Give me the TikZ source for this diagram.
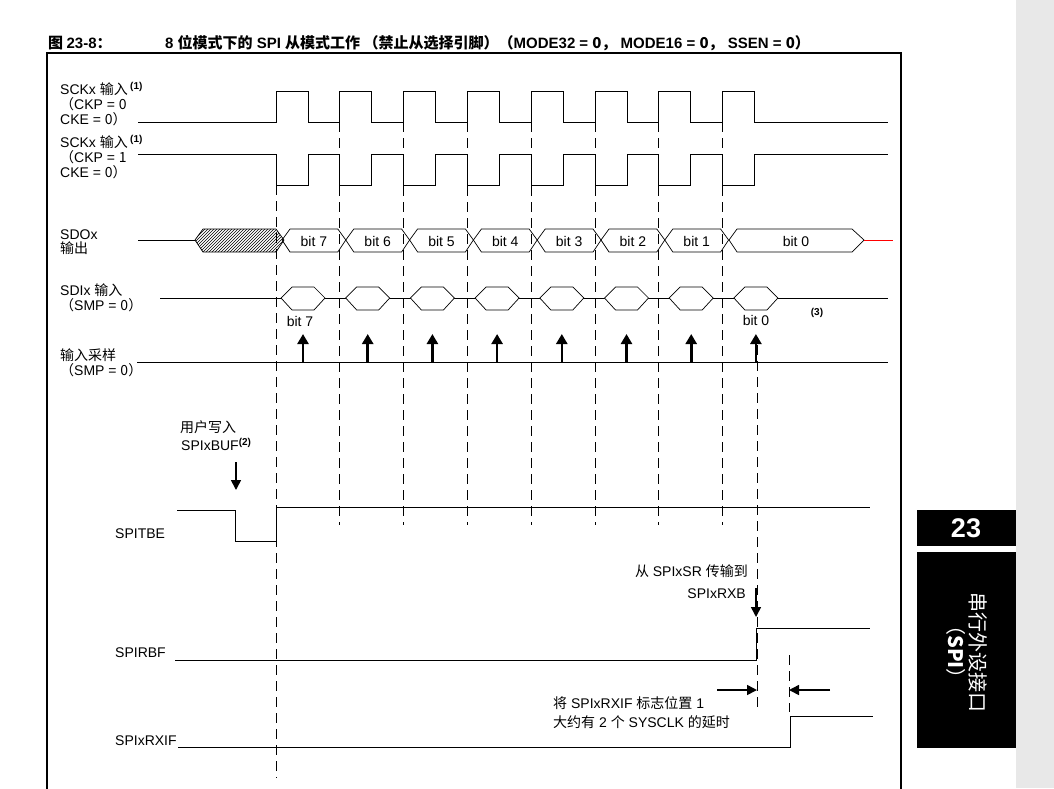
\documentclass[tikz,border=0pt]{standalone}
\usepackage{fontspec}
\setmainfont{Liberation Sans}
\newfontfamily\cjk{Noto Sans CJK SC}
\usetikzlibrary{positioning,patterns,arrows.meta}

\tikzset{
  sig/.style={line width=1pt},
  vdash/.style={line width=0.9pt, dash pattern=on 10pt off 6pt},
  lbl/.style={anchor=base west, inner sep=0pt, font=\fontsize{14}{16}\selectfont},
  bitlbl/.style={inner sep=0pt, font=\fontsize{14}{16}\selectfont},
  samparrow/.style={-{Triangle[length=10pt,width=11pt]}, line width=2.6pt},
  markarrow/.style={-{Triangle[length=10pt,width=10pt]}, line width=1.6pt},
}

\begin{document}
\begin{tikzpicture}[x=1pt,y=-1pt]
\useasboundingbox (0,0) rectangle (1054,788);
\fill[black!9] (1016,0) rectangle (1054,788);
% title and frame
\node[lbl, font=\bfseries\fontsize{15}{17}\selectfont] (title) at (48,48) {\cjk 图 \rmfamily 23-8\cjk：};
\node[lbl, font=\bfseries\fontsize{15}{17}\selectfont] (head) at (165,48)
  {8 {\cjk 位模式下的} SPI {\cjk 从模式工作 （禁止从选择引脚）（}MODE32 = {\cjk 0，} MODE16 = {\cjk 0，} SSEN = {\cjk 0）}};
\draw[line width=1.2pt] (47,795) -- (47,53) -- (901,53) -- (901,795);
% side tab
\fill (917,510) rectangle (1016,546);
\fill (917,552) rectangle (1016,748);
\node[text=white, font=\bfseries\fontsize{27}{29}\selectfont] (chap) at (966,528) {23};
\node[text=white, rotate=-90, align=center, font=\cjk\fontsize{20}{22}\selectfont] (side) at (967,652) {串行外设接口\\（\textbf{SPI}）};
% signal names
\node[lbl] (sck0a) at (60,94) {SCKx {\cjk 输入}\,\raisebox{5pt}{\bfseries\fontsize{10}{12}\selectfont(1)}};
\node[lbl] (sck0b) at (60,109) {\cjk （\rmfamily CKP = \cjk 0};
\node[lbl] (sck0c) at (60,124) {CKE = {\cjk 0）}};
\node[lbl] (sck1a) at (60,147) {SCKx {\cjk 输入}\,\raisebox{5pt}{\bfseries\fontsize{10}{12}\selectfont(1)}};
\node[lbl] (sck1b) at (60,162) {\cjk （\rmfamily CKP = \cjk 1};
\node[lbl] (sck1c) at (60,177) {CKE = {\cjk 0）}};
\node[lbl] (sdoa) at (60,239) {SDOx};
\node[lbl] (sdob) at (60,253) {\cjk 输出};
\node[lbl] (sdia) at (60,295) {SDIx {\cjk 输入}};
\node[lbl] (sdib) at (60,310) {\cjk （\rmfamily SMP = \cjk 0）};
\node[lbl] (smpa) at (60,360) {\cjk 输入采样};
\node[lbl] (smpb) at (60,375) {\cjk （\rmfamily SMP = \cjk 0）};
\node[lbl] (tbe) at (115,538) {SPITBE};
\node[lbl] (rbf) at (115,657) {SPIRBF};
\node[lbl] (rxif) at (115,745) {SPIxRXIF};
% clocks
\draw[sig] (138,122) foreach \k in {0,...,7} {
  -- ({276+63.8*\k},122) -- ({276+63.8*\k},91) -- ({308+63.8*\k},91) -- ({308+63.8*\k},122)} -- (888,122);
\draw[sig] (138,154) foreach \k in {0,...,7} {
  -- ({276+63.8*\k},154) -- ({276+63.8*\k},185) -- ({308+63.8*\k},185) -- ({308+63.8*\k},154)} -- (888,154);
% dashed edge markers
\foreach \k in {1,...,6}
  \draw[vdash] ({276+63.8*\k},122) -- ({276+63.8*\k},525);
\draw[vdash] (276,185) -- (276,778);
\draw[vdash] (722.6,122) -- (722.6,525);
\draw[vdash] (757,345) -- (757,712);
\draw[vdash] (789,655) -- (789,712);
% SDOx
\draw[sig] (138,240) -- (195,240);
\draw[line width=0.7pt, pattern=north east lines] (195,240) -- (203,229) -- (276,229) -- (284,240) -- (276,252) -- (203,252) -- cycle;
\foreach \k/\b in {0/7,1/6,2/5,3/4,4/3,5/2,6/1} {
  \pgfmathsetmacro{\xa}{282+63.8*\k}
  \pgfmathsetmacro{\xb}{\xa+63.8}
  \draw[line width=0.7pt] (\xa,240) -- (\xa+8,229) -- (\xb-8,229) -- (\xb,240) -- (\xb-8,252) -- (\xa+8,252) -- cycle;
  \node[bitlbl] (do\b) at ({(\xa+\xb)/2},241) {bit \b};
}
\draw[line width=0.7pt] (729,240) -- (737,229) -- (852,229) -- (864,240) -- (852,252) -- (737,252) -- cycle;
\node[bitlbl] (do0) at (796,241) {bit 0};
\draw[red, line width=0.9pt] (864,240) -- (893,240);
% SDIx
\draw[sig] (160,298) -- (888,298);
\foreach \k in {0,...,7} {
  \pgfmathsetmacro{\xc}{303+64.7*\k}
  \draw[line width=0.7pt, fill=white] (\xc-22,298) -- (\xc-11,287) -- (\xc+11,287) -- (\xc+22,298) -- (\xc+11,310) -- (\xc-11,310) -- cycle;
  \draw[samparrow] (\xc,362) -- (\xc,334);
}
\node[bitlbl] (di7) at (300,321) {bit 7};
\node[bitlbl] (di0) at (756,320) {bit 0};
\node[bitlbl, font=\bfseries\fontsize{10}{12}\selectfont] (note3) at (817,313) {(3)};
\draw[sig] (137,362) -- (888,362);
% SPITBE
\node[lbl, anchor=base west] (wr1) at (180,432) {\cjk 用户写入};
\node[lbl, anchor=base west] (wr2) at (181,450) {SPIxBUF\raisebox{5pt}{\bfseries\fontsize{10}{12}\selectfont(2)}};
\coordinate (wrtop) at (236,462);
\coordinate (wrbot) at (236,490);
\draw[markarrow] (wrtop) -- (wrbot);
\draw[sig] (177,510) -- (235,510) -- (235,541) -- (276,541) -- (276,507) -- (870,507);
% SPIRBF
\node[lbl, anchor=base east] (xfer1) at (748,576) {{\cjk 从} SPIxSR {\cjk 传输到}};
\node[lbl, anchor=base east] (xfer2) at (746,598) {SPIxRXB};
\coordinate (xftop) at (756,588);
\coordinate (xfbot) at (756,617);
\draw[markarrow] (xftop) -- (xfbot);
\draw[sig] (175,660) -- (756,660) -- (756,628) -- (870,628);
% SPIxRXIF
\coordinate (dl1) at (717,690);
\coordinate (dl2) at (757,690);
\coordinate (dr1) at (830,690);
\coordinate (dr2) at (789,690);
\draw[markarrow] (dl1) -- (dl2);
\draw[markarrow] (dr1) -- (dr2);
\node[lbl] (flag1) at (553,708) {{\cjk 将} SPIxRXIF {\cjk 标志位置} 1};
\node[lbl] (flag2) at (553,727) {{\cjk 大约有} 2 {\cjk 个} SYSCLK {\cjk 的延时}};
\draw[sig] (178,747) -- (790,747) -- (790,716) -- (873,716);
\end{tikzpicture}
\end{document}
